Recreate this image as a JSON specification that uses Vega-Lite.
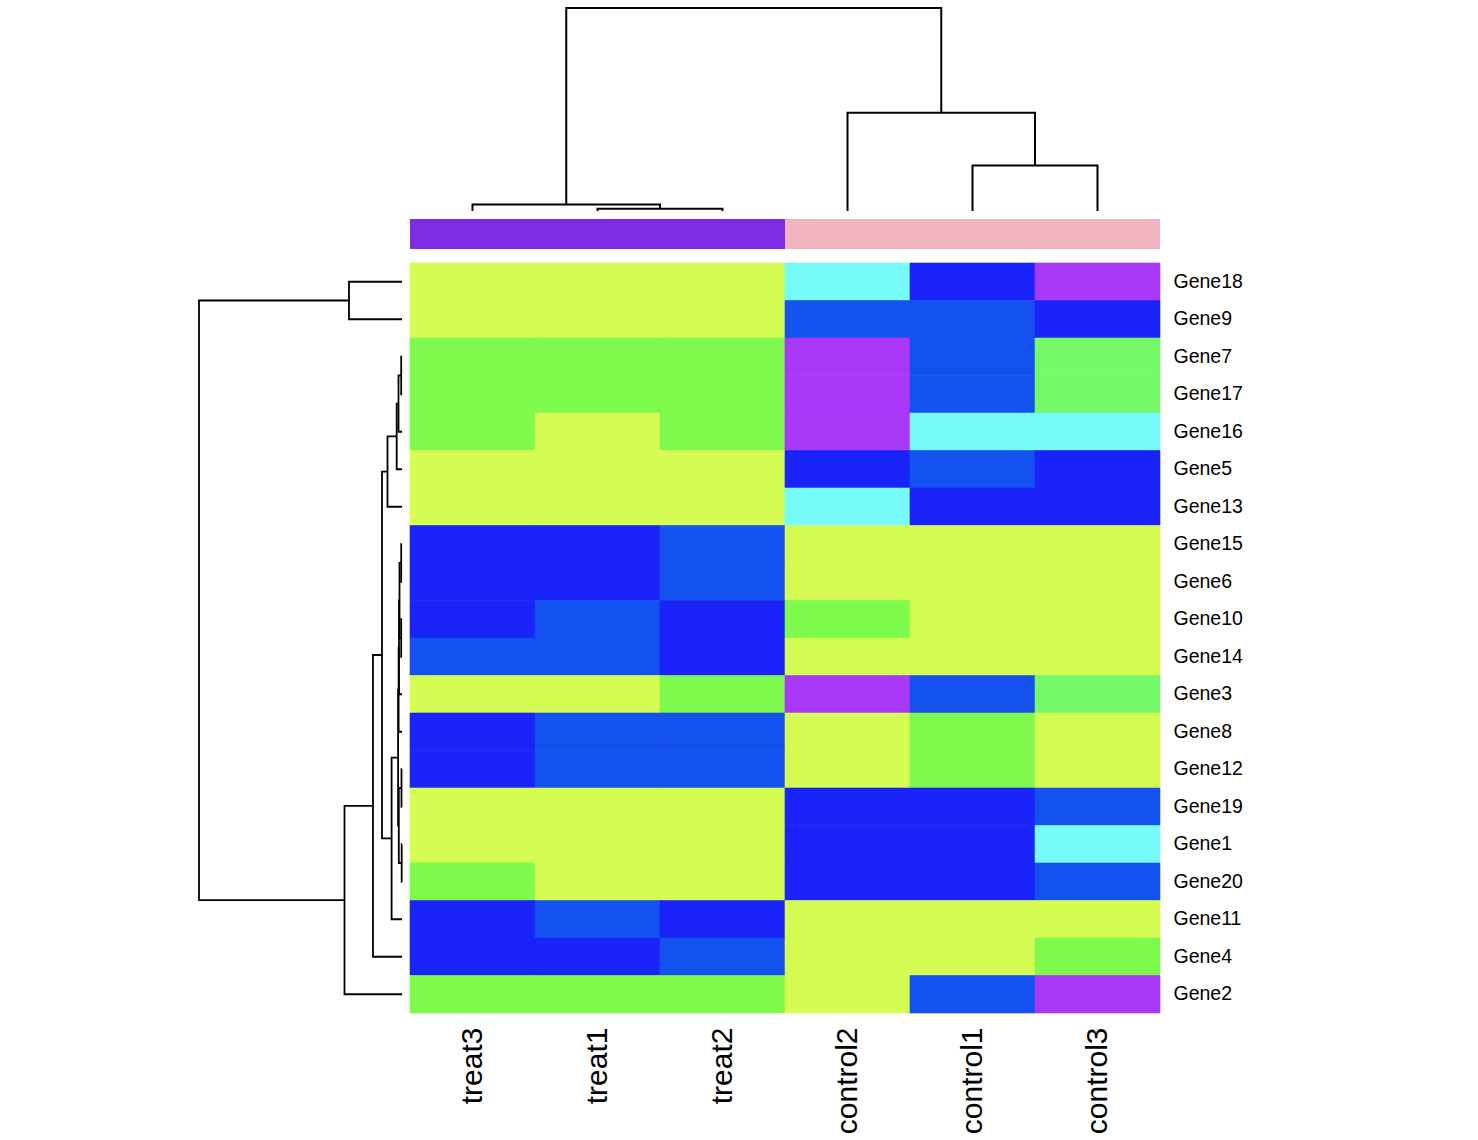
{
  "$schema": "https://vega.github.io/schema/vega-lite/v6.json",
  "padding": {"left": 195, "top": 4, "right": 0, "bottom": 0},
  "background": "white",
  "config": {
    "view": {"stroke": null},
    "font": "Liberation Sans",
    "axis": {"domain": false, "ticks": false, "tickSize": 0, "grid": false, "labelColor": "#000000", "labelFont": "Liberation Sans"}
  },
  "columns": 2,
  "spacing": 8,
  "bounds": "flush",
  "resolve": {"scale": {"color": "independent", "stroke": "independent", "x": "independent", "y": "independent"}},
  "concat": [
    {"width": 203, "height": 203, "data": {"values": []}, "mark": "point", "encoding": {}},
    {
      "width": 750, "height": 203,
      "data": {"values": [
        {"node": "T12", "seq": 1, "pos": 1.5, "h": 0},
        {"node": "T12", "seq": 2, "pos": 1.5, "h": 2.3},
        {"node": "T12", "seq": 3, "pos": 2.5, "h": 2.3},
        {"node": "T12", "seq": 4, "pos": 2.5, "h": 0},
        {"node": "TT", "seq": 1, "pos": 0.5, "h": 0},
        {"node": "TT", "seq": 2, "pos": 0.5, "h": 6.5},
        {"node": "TT", "seq": 3, "pos": 2.0, "h": 6.5},
        {"node": "TT", "seq": 4, "pos": 2.0, "h": 2.3},
        {"node": "C13", "seq": 1, "pos": 4.5, "h": 0},
        {"node": "C13", "seq": 2, "pos": 4.5, "h": 45.5},
        {"node": "C13", "seq": 3, "pos": 5.5, "h": 45.5},
        {"node": "C13", "seq": 4, "pos": 5.5, "h": 0},
        {"node": "CC", "seq": 1, "pos": 3.5, "h": 0},
        {"node": "CC", "seq": 2, "pos": 3.5, "h": 98.3},
        {"node": "CC", "seq": 3, "pos": 5.0, "h": 98.3},
        {"node": "CC", "seq": 4, "pos": 5.0, "h": 45.5},
        {"node": "Root", "seq": 1, "pos": 1.25, "h": 6.5},
        {"node": "Root", "seq": 2, "pos": 1.25, "h": 203},
        {"node": "Root", "seq": 3, "pos": 4.25, "h": 203},
        {"node": "Root", "seq": 4, "pos": 4.25, "h": 98.3}
      ]},
      "mark": {"type": "line", "color": "#000000", "strokeWidth": 2, "strokeJoin": "miter", "clip": false},
      "encoding": {
        "x": {"field": "pos", "type": "quantitative", "scale": {"domain": [0, 6], "nice": false, "zero": false}, "axis": null},
        "y": {"field": "h", "type": "quantitative", "scale": {"domain": [0, 203], "nice": false, "zero": false}, "axis": null},
        "detail": {"field": "node", "type": "nominal"},
        "order": {"field": "seq", "type": "quantitative"}
      }
    },
    {"width": 203, "height": 36, "data": {"values": []}, "mark": "point", "encoding": {}},
    {
      "width": 750, "height": 36,
      "data": {"values": [
        {"sample": "treat3", "group": "treat", "track": "group"},
        {"sample": "treat1", "group": "treat", "track": "group"},
        {"sample": "treat2", "group": "treat", "track": "group"},
        {"sample": "control2", "group": "control", "track": "group"},
        {"sample": "control1", "group": "control", "track": "group"},
        {"sample": "control3", "group": "control", "track": "group"}
      ]},
      "mark": {"type": "rect"},
      "encoding": {
        "x": {"field": "sample", "type": "nominal", "sort": ["treat3", "treat1", "treat2", "control2", "control1", "control3"], "scale": {"paddingInner": 0, "paddingOuter": 0}, "axis": null},
        "y": {"field": "track", "type": "nominal", "scale": {"paddingInner": 0, "paddingOuter": 0.1, "align": 0}, "axis": null},
        "color": {"field": "group", "type": "nominal", "scale": {"domain": ["treat", "control"], "range": ["#7F2BE3", "#F2B3C1"]}, "legend": null}
      }
    },
    {
      "width": 203, "height": 750,
      "data": {"values": [
        {"node": "TR", "seq": 1, "h": 0, "pos": 0.5},
        {"node": "TR", "seq": 2, "h": 53, "pos": 0.5},
        {"node": "TR", "seq": 3, "h": 53, "pos": 1.5},
        {"node": "TR", "seq": 4, "h": 0, "pos": 1.5},
        {"node": "C", "seq": 1, "h": 0, "pos": 2.5},
        {"node": "C", "seq": 2, "h": 0.8, "pos": 2.5},
        {"node": "C", "seq": 3, "h": 0.8, "pos": 3.5},
        {"node": "C", "seq": 4, "h": 0, "pos": 3.5},
        {"node": "B", "seq": 1, "h": 0.8, "pos": 3.0},
        {"node": "B", "seq": 2, "h": 3.5, "pos": 3.0},
        {"node": "B", "seq": 3, "h": 3.5, "pos": 4.5},
        {"node": "B", "seq": 4, "h": 0, "pos": 4.5},
        {"node": "A", "seq": 1, "h": 3.5, "pos": 3.75},
        {"node": "A", "seq": 2, "h": 5.3, "pos": 3.75},
        {"node": "A", "seq": 3, "h": 5.3, "pos": 5.5},
        {"node": "A", "seq": 4, "h": 0, "pos": 5.5},
        {"node": "D", "seq": 1, "h": 5.3, "pos": 4.625},
        {"node": "D", "seq": 2, "h": 14.5, "pos": 4.625},
        {"node": "D", "seq": 3, "h": 14.5, "pos": 6.5},
        {"node": "D", "seq": 4, "h": 0, "pos": 6.5},
        {"node": "H", "seq": 1, "h": 0, "pos": 7.5},
        {"node": "H", "seq": 2, "h": 0.8, "pos": 7.5},
        {"node": "H", "seq": 3, "h": 0.8, "pos": 8.5},
        {"node": "H", "seq": 4, "h": 0, "pos": 8.5},
        {"node": "I", "seq": 1, "h": 0, "pos": 9.5},
        {"node": "I", "seq": 2, "h": 0.8, "pos": 9.5},
        {"node": "I", "seq": 3, "h": 0.8, "pos": 10.5},
        {"node": "I", "seq": 4, "h": 0, "pos": 10.5},
        {"node": "HI", "seq": 1, "h": 0.8, "pos": 8.0},
        {"node": "HI", "seq": 2, "h": 2.5, "pos": 8.0},
        {"node": "HI", "seq": 3, "h": 2.5, "pos": 10.0},
        {"node": "HI", "seq": 4, "h": 0.8, "pos": 10.0},
        {"node": "T", "seq": 1, "h": 2.5, "pos": 9.0},
        {"node": "T", "seq": 2, "h": 3.0, "pos": 9.0},
        {"node": "T", "seq": 3, "h": 3.0, "pos": 11.5},
        {"node": "T", "seq": 4, "h": 0, "pos": 11.5},
        {"node": "T8", "seq": 1, "h": 3.0, "pos": 10.25},
        {"node": "T8", "seq": 2, "h": 3.4, "pos": 10.25},
        {"node": "T8", "seq": 3, "h": 3.4, "pos": 12.5},
        {"node": "T8", "seq": 4, "h": 0, "pos": 12.5},
        {"node": "N", "seq": 1, "h": 0, "pos": 13.5},
        {"node": "N", "seq": 2, "h": 0.5, "pos": 13.5},
        {"node": "N", "seq": 3, "h": 0.5, "pos": 14.5},
        {"node": "N", "seq": 4, "h": 0, "pos": 14.5},
        {"node": "M", "seq": 1, "h": 0, "pos": 15.5},
        {"node": "M", "seq": 2, "h": 0.3, "pos": 15.5},
        {"node": "M", "seq": 3, "h": 0.3, "pos": 16.5},
        {"node": "M", "seq": 4, "h": 0, "pos": 16.5},
        {"node": "V", "seq": 1, "h": 0.5, "pos": 14.0},
        {"node": "V", "seq": 2, "h": 3.2, "pos": 14.0},
        {"node": "V", "seq": 3, "h": 3.2, "pos": 16.0},
        {"node": "V", "seq": 4, "h": 0.3, "pos": 16.0},
        {"node": "K", "seq": 1, "h": 3.4, "pos": 11.375},
        {"node": "K", "seq": 2, "h": 3.9, "pos": 11.375},
        {"node": "K", "seq": 3, "h": 3.9, "pos": 15.0},
        {"node": "K", "seq": 4, "h": 3.2, "pos": 15.0},
        {"node": "F", "seq": 1, "h": 3.9, "pos": 13.1875},
        {"node": "F", "seq": 2, "h": 10.4, "pos": 13.1875},
        {"node": "F", "seq": 3, "h": 10.4, "pos": 17.5},
        {"node": "F", "seq": 4, "h": 0, "pos": 17.5},
        {"node": "E", "seq": 1, "h": 14.5, "pos": 5.5625},
        {"node": "E", "seq": 2, "h": 20, "pos": 5.5625},
        {"node": "E", "seq": 3, "h": 20, "pos": 15.34375},
        {"node": "E", "seq": 4, "h": 10.4, "pos": 15.34375},
        {"node": "G", "seq": 1, "h": 20, "pos": 10.453125},
        {"node": "G", "seq": 2, "h": 29, "pos": 10.453125},
        {"node": "G", "seq": 3, "h": 29, "pos": 18.5},
        {"node": "G", "seq": 4, "h": 0, "pos": 18.5},
        {"node": "LR", "seq": 1, "h": 29, "pos": 14.4765625},
        {"node": "LR", "seq": 2, "h": 57.5, "pos": 14.4765625},
        {"node": "LR", "seq": 3, "h": 57.5, "pos": 19.5},
        {"node": "LR", "seq": 4, "h": 0, "pos": 19.5},
        {"node": "Root", "seq": 1, "h": 53, "pos": 1.0},
        {"node": "Root", "seq": 2, "h": 203, "pos": 1.0},
        {"node": "Root", "seq": 3, "h": 203, "pos": 16.98828125},
        {"node": "Root", "seq": 4, "h": 57.5, "pos": 16.98828125}
      ]},
      "mark": {"type": "line", "color": "#000000", "strokeWidth": 1.8, "strokeJoin": "miter", "clip": false},
      "encoding": {
        "x": {"field": "h", "type": "quantitative", "scale": {"domain": [0, 203], "reverse": true, "nice": false, "zero": false}, "axis": null},
        "y": {"field": "pos", "type": "quantitative", "scale": {"domain": [0, 20], "reverse": true, "nice": false, "zero": false}, "axis": null},
        "detail": {"field": "node", "type": "nominal"},
        "order": {"field": "seq", "type": "quantitative"}
      }
    },
    {
      "width": 750, "height": 750,
      "data": {"values": [
        {"gene": "Gene18", "sample": "treat3", "level": 6}, {"gene": "Gene18", "sample": "treat1", "level": 6}, {"gene": "Gene18", "sample": "treat2", "level": 6}, {"gene": "Gene18", "sample": "control2", "level": 3}, {"gene": "Gene18", "sample": "control1", "level": 1}, {"gene": "Gene18", "sample": "control3", "level": 7},
        {"gene": "Gene9", "sample": "treat3", "level": 6}, {"gene": "Gene9", "sample": "treat1", "level": 6}, {"gene": "Gene9", "sample": "treat2", "level": 6}, {"gene": "Gene9", "sample": "control2", "level": 2}, {"gene": "Gene9", "sample": "control1", "level": 2}, {"gene": "Gene9", "sample": "control3", "level": 1},
        {"gene": "Gene7", "sample": "treat3", "level": 5}, {"gene": "Gene7", "sample": "treat1", "level": 5}, {"gene": "Gene7", "sample": "treat2", "level": 5}, {"gene": "Gene7", "sample": "control2", "level": 7}, {"gene": "Gene7", "sample": "control1", "level": 2}, {"gene": "Gene7", "sample": "control3", "level": 4},
        {"gene": "Gene17", "sample": "treat3", "level": 5}, {"gene": "Gene17", "sample": "treat1", "level": 5}, {"gene": "Gene17", "sample": "treat2", "level": 5}, {"gene": "Gene17", "sample": "control2", "level": 7}, {"gene": "Gene17", "sample": "control1", "level": 2}, {"gene": "Gene17", "sample": "control3", "level": 4},
        {"gene": "Gene16", "sample": "treat3", "level": 5}, {"gene": "Gene16", "sample": "treat1", "level": 6}, {"gene": "Gene16", "sample": "treat2", "level": 5}, {"gene": "Gene16", "sample": "control2", "level": 7}, {"gene": "Gene16", "sample": "control1", "level": 3}, {"gene": "Gene16", "sample": "control3", "level": 3},
        {"gene": "Gene5", "sample": "treat3", "level": 6}, {"gene": "Gene5", "sample": "treat1", "level": 6}, {"gene": "Gene5", "sample": "treat2", "level": 6}, {"gene": "Gene5", "sample": "control2", "level": 1}, {"gene": "Gene5", "sample": "control1", "level": 2}, {"gene": "Gene5", "sample": "control3", "level": 1},
        {"gene": "Gene13", "sample": "treat3", "level": 6}, {"gene": "Gene13", "sample": "treat1", "level": 6}, {"gene": "Gene13", "sample": "treat2", "level": 6}, {"gene": "Gene13", "sample": "control2", "level": 3}, {"gene": "Gene13", "sample": "control1", "level": 1}, {"gene": "Gene13", "sample": "control3", "level": 1},
        {"gene": "Gene15", "sample": "treat3", "level": 1}, {"gene": "Gene15", "sample": "treat1", "level": 1}, {"gene": "Gene15", "sample": "treat2", "level": 2}, {"gene": "Gene15", "sample": "control2", "level": 6}, {"gene": "Gene15", "sample": "control1", "level": 6}, {"gene": "Gene15", "sample": "control3", "level": 6},
        {"gene": "Gene6", "sample": "treat3", "level": 1}, {"gene": "Gene6", "sample": "treat1", "level": 1}, {"gene": "Gene6", "sample": "treat2", "level": 2}, {"gene": "Gene6", "sample": "control2", "level": 6}, {"gene": "Gene6", "sample": "control1", "level": 6}, {"gene": "Gene6", "sample": "control3", "level": 6},
        {"gene": "Gene10", "sample": "treat3", "level": 1}, {"gene": "Gene10", "sample": "treat1", "level": 2}, {"gene": "Gene10", "sample": "treat2", "level": 1}, {"gene": "Gene10", "sample": "control2", "level": 5}, {"gene": "Gene10", "sample": "control1", "level": 6}, {"gene": "Gene10", "sample": "control3", "level": 6},
        {"gene": "Gene14", "sample": "treat3", "level": 2}, {"gene": "Gene14", "sample": "treat1", "level": 2}, {"gene": "Gene14", "sample": "treat2", "level": 1}, {"gene": "Gene14", "sample": "control2", "level": 6}, {"gene": "Gene14", "sample": "control1", "level": 6}, {"gene": "Gene14", "sample": "control3", "level": 6},
        {"gene": "Gene3", "sample": "treat3", "level": 6}, {"gene": "Gene3", "sample": "treat1", "level": 6}, {"gene": "Gene3", "sample": "treat2", "level": 5}, {"gene": "Gene3", "sample": "control2", "level": 7}, {"gene": "Gene3", "sample": "control1", "level": 2}, {"gene": "Gene3", "sample": "control3", "level": 4},
        {"gene": "Gene8", "sample": "treat3", "level": 1}, {"gene": "Gene8", "sample": "treat1", "level": 2}, {"gene": "Gene8", "sample": "treat2", "level": 2}, {"gene": "Gene8", "sample": "control2", "level": 6}, {"gene": "Gene8", "sample": "control1", "level": 5}, {"gene": "Gene8", "sample": "control3", "level": 6},
        {"gene": "Gene12", "sample": "treat3", "level": 1}, {"gene": "Gene12", "sample": "treat1", "level": 2}, {"gene": "Gene12", "sample": "treat2", "level": 2}, {"gene": "Gene12", "sample": "control2", "level": 6}, {"gene": "Gene12", "sample": "control1", "level": 5}, {"gene": "Gene12", "sample": "control3", "level": 6},
        {"gene": "Gene19", "sample": "treat3", "level": 6}, {"gene": "Gene19", "sample": "treat1", "level": 6}, {"gene": "Gene19", "sample": "treat2", "level": 6}, {"gene": "Gene19", "sample": "control2", "level": 1}, {"gene": "Gene19", "sample": "control1", "level": 1}, {"gene": "Gene19", "sample": "control3", "level": 2},
        {"gene": "Gene1", "sample": "treat3", "level": 6}, {"gene": "Gene1", "sample": "treat1", "level": 6}, {"gene": "Gene1", "sample": "treat2", "level": 6}, {"gene": "Gene1", "sample": "control2", "level": 1}, {"gene": "Gene1", "sample": "control1", "level": 1}, {"gene": "Gene1", "sample": "control3", "level": 3},
        {"gene": "Gene20", "sample": "treat3", "level": 5}, {"gene": "Gene20", "sample": "treat1", "level": 6}, {"gene": "Gene20", "sample": "treat2", "level": 6}, {"gene": "Gene20", "sample": "control2", "level": 1}, {"gene": "Gene20", "sample": "control1", "level": 1}, {"gene": "Gene20", "sample": "control3", "level": 2},
        {"gene": "Gene11", "sample": "treat3", "level": 1}, {"gene": "Gene11", "sample": "treat1", "level": 2}, {"gene": "Gene11", "sample": "treat2", "level": 1}, {"gene": "Gene11", "sample": "control2", "level": 6}, {"gene": "Gene11", "sample": "control1", "level": 6}, {"gene": "Gene11", "sample": "control3", "level": 6},
        {"gene": "Gene4", "sample": "treat3", "level": 1}, {"gene": "Gene4", "sample": "treat1", "level": 1}, {"gene": "Gene4", "sample": "treat2", "level": 2}, {"gene": "Gene4", "sample": "control2", "level": 6}, {"gene": "Gene4", "sample": "control1", "level": 6}, {"gene": "Gene4", "sample": "control3", "level": 5},
        {"gene": "Gene2", "sample": "treat3", "level": 5}, {"gene": "Gene2", "sample": "treat1", "level": 5}, {"gene": "Gene2", "sample": "treat2", "level": 5}, {"gene": "Gene2", "sample": "control2", "level": 6}, {"gene": "Gene2", "sample": "control1", "level": 2}, {"gene": "Gene2", "sample": "control3", "level": 7}
      ]},
      "mark": {"type": "rect", "strokeWidth": 0.6},
      "encoding": {
        "x": {"field": "sample", "type": "nominal", "sort": ["treat3", "treat1", "treat2", "control2", "control1", "control3"], "scale": {"paddingInner": 0, "paddingOuter": 0},
              "axis": {"orient": "bottom", "title": null, "labelAngle": 270, "labelFontSize": 30, "labelPadding": 14, "labelLimit": 400}},
        "y": {"field": "gene", "type": "nominal", "sort": ["Gene18", "Gene9", "Gene7", "Gene17", "Gene16", "Gene5", "Gene13", "Gene15", "Gene6", "Gene10", "Gene14", "Gene3", "Gene8", "Gene12", "Gene19", "Gene1", "Gene20", "Gene11", "Gene4", "Gene2"], "scale": {"paddingInner": 0, "paddingOuter": 0},
              "axis": {"orient": "right", "title": null, "labelFontSize": 19.5, "labelPadding": 13}},
        "color": {"field": "level", "type": "ordinal", "scale": {"domain": [1, 2, 3, 4, 5, 6, 7], "range": ["#1A24F8", "#1452F0", "#76FAFA", "#76FA6C", "#7DFA4C", "#D4FC52", "#A938F8"]}, "legend": null},
        "stroke": {"field": "level", "type": "ordinal", "scale": {"domain": [1, 2, 3, 4, 5, 6, 7], "range": ["#1A24F8", "#1452F0", "#76FAFA", "#76FA6C", "#7DFA4C", "#D4FC52", "#A938F8"]}, "legend": null}
      }
    }
  ]
}
